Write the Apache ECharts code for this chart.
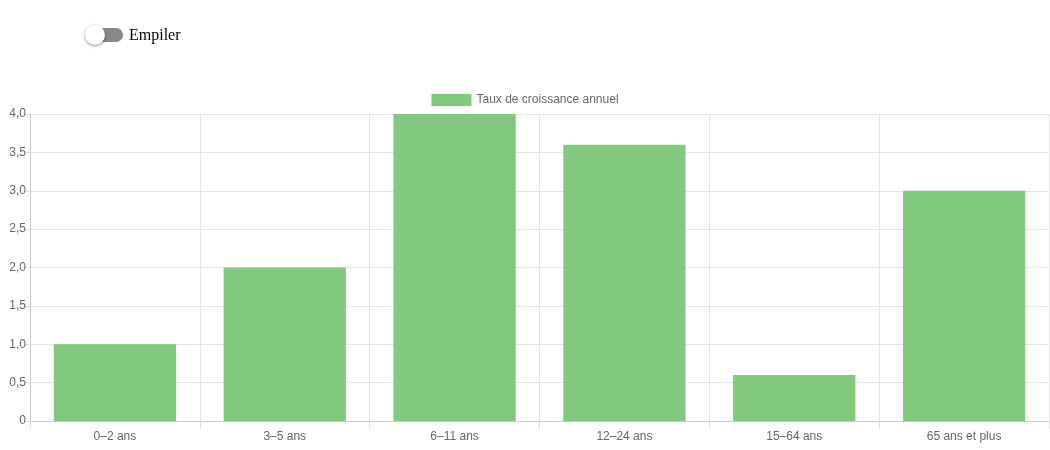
<!DOCTYPE html>
<html><head><meta charset="utf-8">
<script src="https://cdn.jsdelivr.net/npm/echarts@6/dist/echarts.min.js"></script>
<style>
body{margin:0;width:1050px;height:450px;position:relative;background:#fff;overflow:hidden}
#tog{position:absolute;left:85px;top:26px;display:flex;align-items:center;font-family:"Liberation Serif",serif;font-size:16px;color:#000}
#track{width:28px;height:14px;border-radius:7px;background:#888;position:relative;margin-left:10px;margin-right:6px}
#knob{position:absolute;left:-10px;top:-3px;width:20px;height:20px;border-radius:50%;background:#fff;box-shadow:0 1px 3px rgba(0,0,0,0.45)}
#c{position:absolute;left:0;top:0;width:1050px;height:450px}
</style></head><body>
<div id="c"></div>
<div id="tog"><div id="track"><div id="knob"></div></div>Empiler</div>
<script>
const categories=["0–2 ans","3–5 ans","6–11 ans","12–24 ans","15–64 ans","65 ans et plus"];
const values=[1.0,2.0,4.0,3.6,0.6,3.0];
const seriesName="Taux de croissance annuel";
const ch=echarts.init(document.getElementById('c'));
ch.setOption({
 animation:false,
 legend:{top:89,left:'center',itemWidth:40,itemHeight:12,icon:'rect',textStyle:{color:'#666',fontSize:12,fontFamily:'Liberation Sans'},data:[seriesName]},
 grid:{left:30,right:1,top:114,bottom:29},
 xAxis:{type:'category',data:categories,boundaryGap:true,
  axisLine:{lineStyle:{color:'#ccc'}},axisTick:{show:true,length:8,lineStyle:{color:'#ddd'}},
  splitLine:{show:true,lineStyle:{color:'#e5e5e5'}},
  axisLabel:{color:'#666',fontSize:12,fontFamily:'Liberation Sans',margin:10}},
 yAxis:{type:'value',min:0,max:4,interval:0.5,
  axisLine:{show:true,lineStyle:{color:'#ccc'}},axisTick:{show:true,length:5,lineStyle:{color:'#ddd'}},
  splitLine:{lineStyle:{color:'#e5e5e5'}},
  axisLabel:{color:'#666',fontSize:12,fontFamily:'Liberation Sans',margin:4,
   formatter:v=>v===0?'0':v.toFixed(1).replace('.',',')}},
 series:[{name:seriesName,type:'bar',data:values,barWidth:'72%',itemStyle:{color:'#81c97e'}}]
});
</script></body></html>
